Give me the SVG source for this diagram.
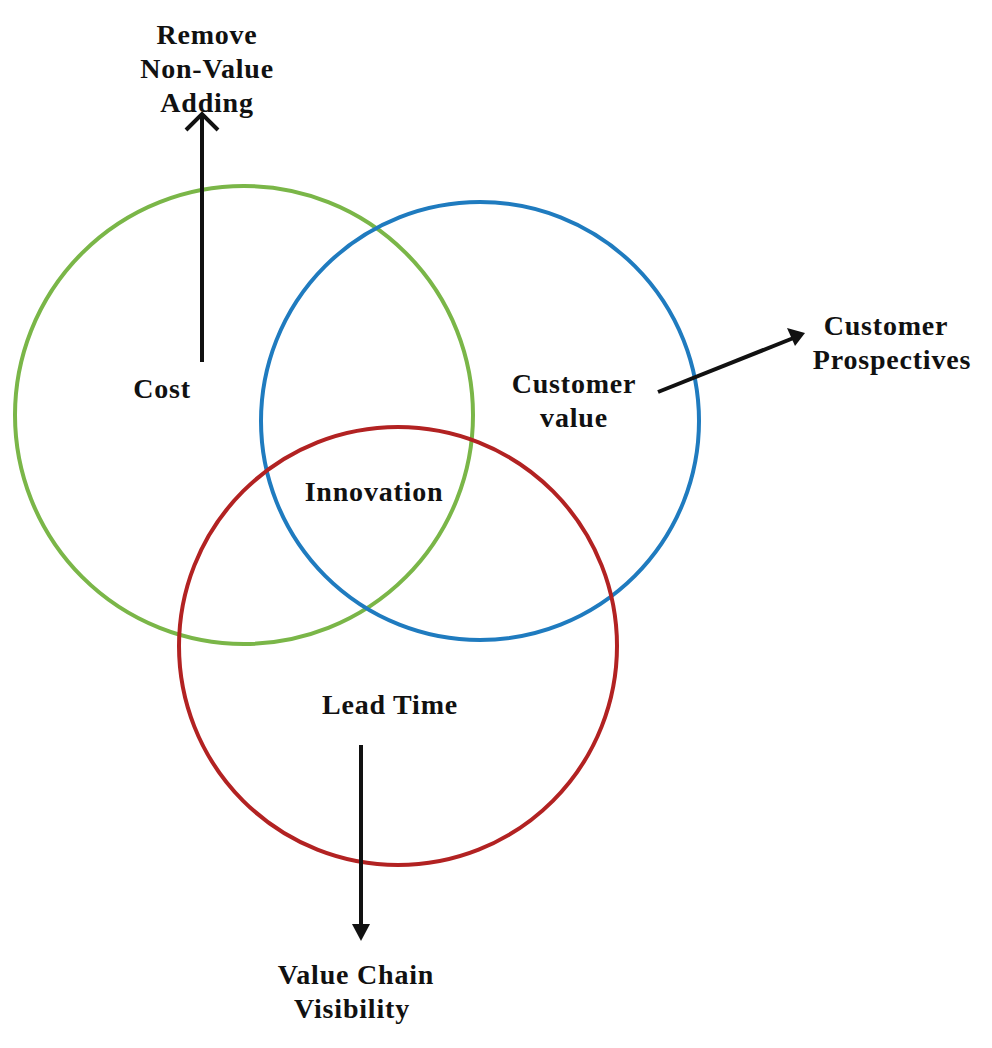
<svg xmlns="http://www.w3.org/2000/svg" width="992" height="1048" viewBox="0 0 992 1048">
<style>
text{font-family:"Liberation Serif","Times New Roman",serif;font-weight:bold;font-size:28px;letter-spacing:0.8px;fill:#111;text-anchor:middle}
.c{fill:none;stroke-width:4}
.a{stroke:#111;stroke-width:4;fill:none}
</style>
<rect width="992" height="1048" fill="#fff"/>
<g id="cost"><circle class="c" cx="244" cy="415" r="229" stroke="#7ab648"/><text x="162" y="398">Cost</text></g>
<g id="customer-value"><circle class="c" cx="480" cy="421" r="219" stroke="#1f7bbf"/><text x="574" y="393">Customer</text><text x="574" y="427">value</text></g>
<g id="lead-time"><circle class="c" cx="398" cy="646" r="219" stroke="#b22222"/><text x="390" y="714">Lead Time</text></g>
<g id="innovation"><text x="374" y="501">Innovation</text></g>
<g id="remove"><text x="207" y="44">Remove</text><text x="207" y="78">Non-Value</text><text x="207" y="112">Adding</text></g>
<g id="prospectives"><text x="886" y="335">Customer</text><text x="892" y="369">Prospectives</text></g>
<g id="visibility"><text x="356" y="984">Value Chain</text><text x="352" y="1018">Visibility</text></g>
<g id="connectors">
<line class="a" x1="202" y1="362" x2="202" y2="114"/>
<path d="M186,130 L202,114 L218,130" fill="none" stroke="#111" stroke-width="4"/>
<line class="a" x1="658" y1="392" x2="796" y2="337"/>
<path d="M805,333 L787,328 L795,346 Z" fill="#111"/>
<line class="a" x1="361" y1="745" x2="361" y2="930"/>
<path d="M352,924 L361,941 L370,924 Z" fill="#111"/>
</g>
</svg>
